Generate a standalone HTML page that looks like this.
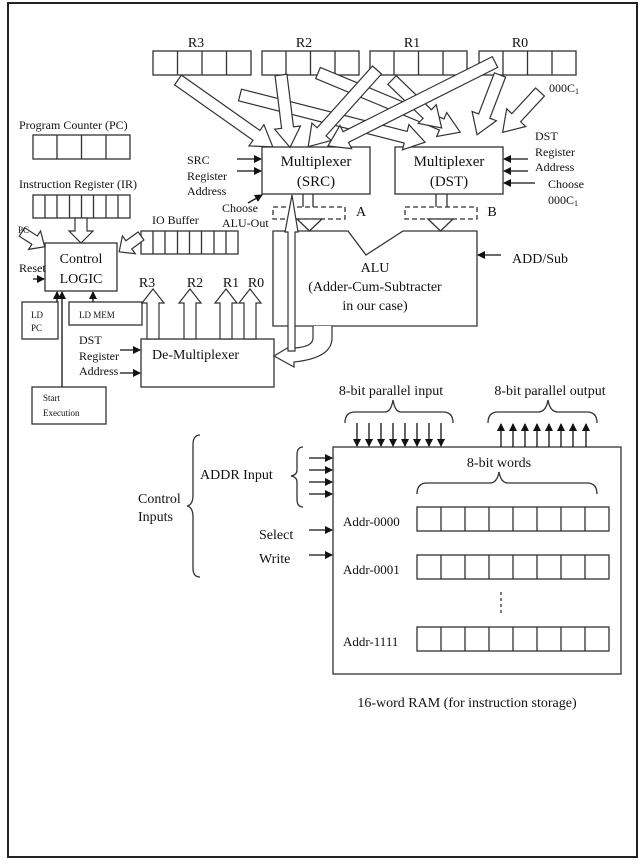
<!DOCTYPE html>
<html><head><meta charset="utf-8"><style>
html,body{margin:0;padding:0;background:#fff}
svg{display:block}
text{font-family:"Liberation Serif",serif;fill:#111}
</style></head><body>
<svg width="643" height="865" viewBox="0 0 643 865" xmlns="http://www.w3.org/2000/svg">
<defs>
<marker id="ah" markerWidth="8" markerHeight="8" refX="7" refY="4" orient="auto" markerUnits="userSpaceOnUse">
<path d="M0,0 L8,4 L0,8 Z" fill="#111"/></marker>
</defs>
<rect x="8" y="3" width="629" height="854" fill="none" stroke="#222" stroke-width="2"/>
<g fill="none" stroke="#333" stroke-width="1.3">
<rect x="153" y="51" width="98" height="24"/><line x1="177.5" y1="51" x2="177.5" y2="75"/><line x1="202" y1="51" x2="202" y2="75"/><line x1="226.5" y1="51" x2="226.5" y2="75"/>
<rect x="262" y="51" width="97" height="24"/><line x1="286" y1="51" x2="286" y2="75"/><line x1="310.5" y1="51" x2="310.5" y2="75"/><line x1="335" y1="51" x2="335" y2="75"/>
<rect x="370" y="51" width="97" height="24"/><line x1="394" y1="51" x2="394" y2="75"/><line x1="418.5" y1="51" x2="418.5" y2="75"/><line x1="443" y1="51" x2="443" y2="75"/>
<rect x="479" y="51" width="97" height="24"/><line x1="503" y1="51" x2="503" y2="75"/><line x1="527.5" y1="51" x2="527.5" y2="75"/><line x1="552" y1="51" x2="552" y2="75"/>
<rect x="33" y="135" width="97" height="24"/><line x1="57" y1="135" x2="57" y2="159"/><line x1="81.5" y1="135" x2="81.5" y2="159"/><line x1="106" y1="135" x2="106" y2="159"/>
<rect x="33" y="195" width="97" height="23"/>
<line x1="45" y1="195" x2="45" y2="218"/><line x1="57" y1="195" x2="57" y2="218"/><line x1="69.5" y1="195" x2="69.5" y2="218"/><line x1="81.5" y1="195" x2="81.5" y2="218"/><line x1="93.5" y1="195" x2="93.5" y2="218"/><line x1="106" y1="195" x2="106" y2="218"/><line x1="118" y1="195" x2="118" y2="218"/>
<rect x="141" y="231" width="97" height="23"/>
<line x1="153" y1="231" x2="153" y2="254"/><line x1="165" y1="231" x2="165" y2="254"/><line x1="177.5" y1="231" x2="177.5" y2="254"/><line x1="189.5" y1="231" x2="189.5" y2="254"/><line x1="201.5" y1="231" x2="201.5" y2="254"/><line x1="214" y1="231" x2="214" y2="254"/><line x1="226" y1="231" x2="226" y2="254"/>
<rect x="262" y="147" width="108" height="47"/>
<rect x="395" y="147" width="108" height="47"/>
<rect x="45" y="243" width="72" height="48"/>
<rect x="22" y="302" width="36" height="37"/>
<rect x="69" y="302" width="73" height="23"/>
<rect x="32" y="387" width="74" height="37"/>
<rect x="141" y="339" width="133" height="48"/>
<path d="M273,231 L348,231 L366,255 L403,231 L477,231 L477,326 L273,326 Z"/>
<rect x="273" y="207" width="72" height="12" stroke-dasharray="5,3"/>
<rect x="405" y="207" width="72" height="12" stroke-dasharray="5,3"/>
<line x1="303" y1="194" x2="303" y2="207"/><line x1="313" y1="194" x2="313" y2="207"/>
<line x1="436" y1="194" x2="436" y2="207"/><line x1="447" y1="194" x2="447" y2="207"/>
<path d="M297,219 L322,219 L309.5,231 Z" fill="#fff"/>
<path d="M428,219 L453,219 L440.5,231 Z" fill="#fff"/>
<rect x="333" y="447" width="288" height="227"/>
<rect x="417" y="507" width="192" height="24"/><rect x="417" y="555" width="192" height="24"/><rect x="417" y="627" width="192" height="24"/>
<path d="M441,507v24M465,507v24M489,507v24M513,507v24M537,507v24M561,507v24M585,507v24"/>
<path d="M441,555v24M465,555v24M489,555v24M513,555v24M537,555v24M561,555v24M585,555v24"/>
<path d="M441,627v24M465,627v24M489,627v24M513,627v24M537,627v24M561,627v24M585,627v24"/>
<line x1="501" y1="592" x2="501" y2="616" stroke-dasharray="3,3"/>
<path d="M345,423 Q345,412 355,412 L385,412 Q391,412 393,400 Q395,412 401,412 L443,412 Q453,412 453,423"/>
<path d="M488,423 Q488,412 498,412 L538,412 Q546,412 548,400 Q550,412 558,412 L587,412 Q597,412 597,423"/>
<path d="M417,494 Q417,483 427,483 L490,483 Q497,483 499,472 Q501,483 508,483 L587,483 Q597,483 597,494"/>
<path d="M303,447 Q297,447 297,455 L297,470 Q297,475 291,476 Q297,477 297,482 L297,499 Q297,507 303,507"/>
<path d="M200,435 Q193,435 193,445 L193,495 Q193,505 187,506 Q193,507 193,517 L193,568 Q193,577 200,577"/>
</g>
<g stroke="#111" stroke-width="1.3" marker-end="url(#ah)">
<line x1="237" y1="159" x2="261" y2="159"/><line x1="237" y1="171" x2="261" y2="171"/>
<line x1="248" y1="203" x2="262" y2="195"/>
<line x1="528" y1="159" x2="504" y2="159"/><line x1="528" y1="171" x2="504" y2="171"/><line x1="535" y1="183" x2="504" y2="183"/>
<line x1="501" y1="255" x2="478" y2="255"/>
<line x1="33" y1="279" x2="44" y2="279"/>
<line x1="57" y1="302" x2="57" y2="292"/>
<line x1="62" y1="387" x2="62" y2="292"/>
<line x1="93" y1="302" x2="93" y2="292"/>
<line x1="120" y1="350" x2="140" y2="350"/><line x1="120" y1="373" x2="140" y2="373"/>
<line x1="309" y1="458" x2="332" y2="458"/><line x1="309" y1="470" x2="332" y2="470"/><line x1="309" y1="482" x2="332" y2="482"/><line x1="309" y1="494" x2="332" y2="494"/>
<line x1="309" y1="530" x2="332" y2="530"/><line x1="309" y1="555" x2="332" y2="555"/>
<line x1="357" y1="423" x2="357" y2="446"/><line x1="369" y1="423" x2="369" y2="446"/><line x1="381" y1="423" x2="381" y2="446"/><line x1="393" y1="423" x2="393" y2="446"/><line x1="405" y1="423" x2="405" y2="446"/><line x1="417" y1="423" x2="417" y2="446"/><line x1="429" y1="423" x2="429" y2="446"/><line x1="441" y1="423" x2="441" y2="446"/>
<line x1="501" y1="447" x2="501" y2="424"/><line x1="513" y1="447" x2="513" y2="424"/><line x1="525" y1="447" x2="525" y2="424"/><line x1="537" y1="447" x2="537" y2="424"/><line x1="549" y1="447" x2="549" y2="424"/><line x1="561" y1="447" x2="561" y2="424"/><line x1="573" y1="447" x2="573" y2="424"/><line x1="586" y1="447" x2="586" y2="424"/>
</g>
<g fill="#fff" stroke="#333" stroke-width="1.2">
<g transform="translate(178,80) rotate(35.2)"><polygon points="0,-6 96,-6 96,-13 116,0 96,13 96,6 0,6"/></g>
<g transform="translate(240,95) rotate(14.3)"><polygon points="0,-6 171,-6 171,-13 191,0 171,13 171,6 0,6"/></g>
<g transform="translate(318,73) rotate(22.6)"><polygon points="0,-6 134,-6 134,-13 154,0 134,13 134,6 0,6"/></g>
<g transform="translate(392,80) rotate(44)"><polygon points="0,-6 49,-6 49,-13 69,0 49,13 49,6 0,6"/></g>
<g transform="translate(281,75) rotate(82.9)"><polygon points="0,-6 53,-6 53,-13 73,0 53,13 53,6 0,6"/></g>
<g transform="translate(377,70) rotate(131.9)"><polygon points="0,-6 83,-6 83,-13 103,0 83,13 83,6 0,6"/></g>
<g transform="translate(495,62) rotate(153.3)"><polygon points="0,-6 167,-6 167,-13 187,0 167,13 167,6 0,6"/></g>
<g transform="translate(500,75) rotate(111)"><polygon points="0,-6 44,-6 44,-13 64,0 44,13 44,6 0,6"/></g>
<g transform="translate(540,92) rotate(132.8)"><polygon points="0,-6 35,-6 35,-13 55,0 35,13 35,6 0,6"/></g>
<g transform="translate(81,218) rotate(90)"><polygon points="0,-6 13,-6 13,-12 25,0 13,12 13,6 0,6"/></g>
<g transform="translate(22,232) rotate(33)"><polygon points="0,-5 15,-5 15,-11 27,0 15,11 15,5 0,5"/></g>
<g transform="translate(141,236) rotate(144)"><polygon points="0,-5 15,-5 15,-11 27,0 15,11 15,5 0,5"/></g>
<g transform="translate(153,339) rotate(-90)"><polygon points="0,-6 36,-6 36,-11 50,0 36,11 36,6 0,6"/></g>
<g transform="translate(190,339) rotate(-90)"><polygon points="0,-6 36,-6 36,-11 50,0 36,11 36,6 0,6"/></g>
<g transform="translate(226,339) rotate(-90)"><polygon points="0,-6 36,-6 36,-11 50,0 36,11 36,6 0,6"/></g>
<g transform="translate(250,339) rotate(-90)"><polygon points="0,-6 36,-6 36,-11 50,0 36,11 36,6 0,6"/></g>
<path d="M313,326 L313,338 Q313,347 294,348 L294,344 L274,356 L294,367 L294,362 Q332,358 332,338 L332,326"/>
<polygon points="288,351 288,232 285,232 292,195 298,232 295,232 295,351"/>
</g>
<g font-size="14" text-anchor="middle">
<text x="196" y="47">R3</text><text x="304" y="47">R2</text><text x="412" y="47">R1</text><text x="520" y="47">R0</text>
<text x="316" y="166" font-size="15">Multiplexer</text><text x="316" y="186" font-size="15">(SRC)</text>
<text x="449" y="166" font-size="15">Multiplexer</text><text x="449" y="186" font-size="15">(DST)</text>
<text x="81" y="263">Control</text><text x="81" y="283">LOGIC</text>
<text x="375" y="272">ALU</text><text x="375" y="291">(Adder-Cum-Subtracter</text><text x="375" y="310">in our case)</text>
<text x="147" y="287">R3</text><text x="195" y="287">R2</text><text x="231" y="287">R1</text><text x="256" y="287">R0</text>
<text x="361" y="216">A</text><text x="492" y="216">B</text>
</g>
<g font-size="12">
<text x="19" y="129">Program Counter (PC)</text>
<text x="19" y="188">Instruction Register (IR)</text>
<text x="152" y="224">IO Buffer</text>
<text x="187" y="164">SRC</text><text x="187" y="180">Register</text><text x="187" y="195">Address</text>
<text x="222" y="212">Choose</text><text x="222" y="227">ALU-Out</text>
<text x="535" y="140">DST</text><text x="535" y="156">Register</text><text x="535" y="171">Address</text>
<text x="548" y="188">Choose</text><text x="548" y="204">000C<tspan font-size="8" dy="2">1</tspan></text>
<text x="549" y="92">000C<tspan font-size="8" dy="2">1</tspan></text>
<text x="19" y="272">Reset</text>
<text x="79" y="344">DST</text><text x="79" y="360">Register</text><text x="79" y="375">Address</text>
<text x="152" y="359" font-size="14">De-Multiplexer</text>
<text x="512" y="263" font-size="14">ADD/Sub</text>
<text x="343" y="526" font-size="13">Addr-0000</text><text x="343" y="574" font-size="13">Addr-0001</text><text x="343" y="646" font-size="13">Addr-1111</text>
<text x="200" y="479" font-size="14">ADDR Input</text>
<text x="138" y="503" font-size="14">Control</text><text x="138" y="521" font-size="14">Inputs</text>
<text x="259" y="539" font-size="14">Select</text><text x="259" y="563" font-size="14">Write</text>
<text x="391" y="395" font-size="14" text-anchor="middle">8-bit parallel input</text>
<text x="550" y="395" font-size="14" text-anchor="middle">8-bit parallel output</text>
<text x="499" y="467" font-size="14" text-anchor="middle">8-bit words</text>
<text x="467" y="707" font-size="14" text-anchor="middle">16-word RAM (for instruction storage)</text>
</g>
<g font-size="9">
<text x="18" y="233">PC</text>
<text x="31" y="318">LD</text><text x="31" y="331">PC</text>
<text x="79" y="318">LD MEM</text>
<text x="43" y="401">Start</text><text x="43" y="416">Execution</text>
</g>
</svg>
</body></html>
